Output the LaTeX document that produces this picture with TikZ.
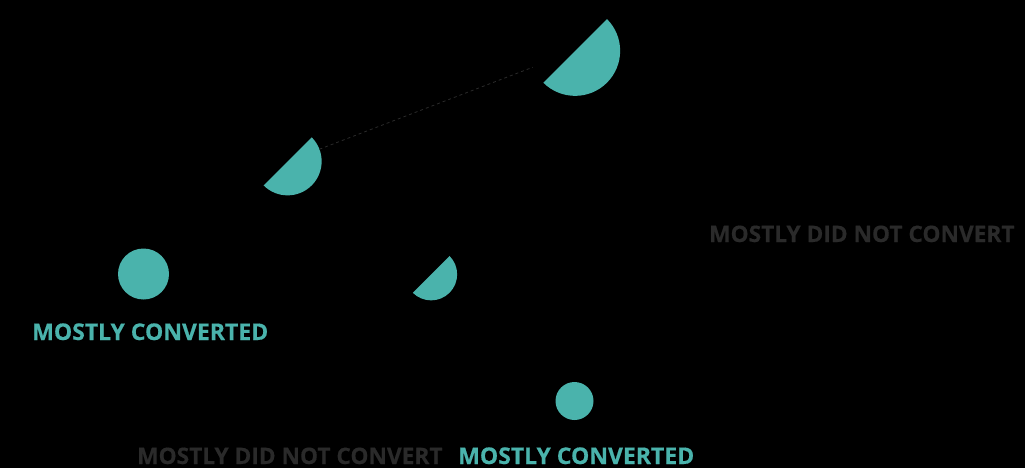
\documentclass[tikz,border=0pt]{standalone}
\usepackage{fontspec}
\setmainfont{Open Sans}[FakeBold=0.5]
\definecolor{verde}{HTML}{4AB3AC}
\definecolor{gris}{HTML}{2A2A2A}
\tikzset{
  hoja/.style={anchor=base west, inner sep=0pt, font=\fontsize{23}{27}\selectfont\bfseries},
  nohoja/.style={hoja, font=\fontsize{22.7}{27}\selectfont\bfseries},
  nodo/.style={circle, inner sep=0pt, minimum size=#1}
}
\begin{document}
\begin{tikzpicture}[x=1pt,y=-1pt]
                % Fondo
                \fill[black] (0,0) rectangle (1025,468);
                \useasboundingbox (0,0) rectangle (1025,468);

                % Nodos del arbol
                \node[nodo=90pt] (raiz) at (575,51) {};
                \node[nodo=68pt] (izq) at (287.5,161.5) {};
                \node[nodo=52pt] (med) at (431,274.5) {};
                \node[nodo=51pt] (hojaA) at (143.5,274) {};
                \node[nodo=38pt] (hojaB) at (574.5,401) {};

                % Rellenos
                \fill[verde] (raiz.45) arc[start angle=-45, end angle=135, radius=45] -- cycle;
                \fill[verde] (izq.45) arc[start angle=-45, end angle=135, radius=34] -- cycle;
                \fill[verde] (med.45) arc[start angle=-45, end angle=135, radius=26] -- cycle;
                \fill[verde] (hojaA) circle (25.5);
                \fill[verde] (hojaB) circle (19);

                % Rama
                \draw[gris, dashed, line width=0.8pt] (izq) -- (raiz);

                % Etiquetas
                \node[hoja, text=verde] (convA) at (32,340) {MOSTLY CONVERTED};
                \node[nohoja, text=gris] (noB) at (137,464) {MOSTLY DID NOT CONVERT};
                \node[hoja, text=verde] (convB) at (458,464) {MOSTLY CONVERTED};
                \node[nohoja, text=gris] (noA) at (709,242) {MOSTLY DID NOT CONVERT};
\end{tikzpicture}
\end{document}
